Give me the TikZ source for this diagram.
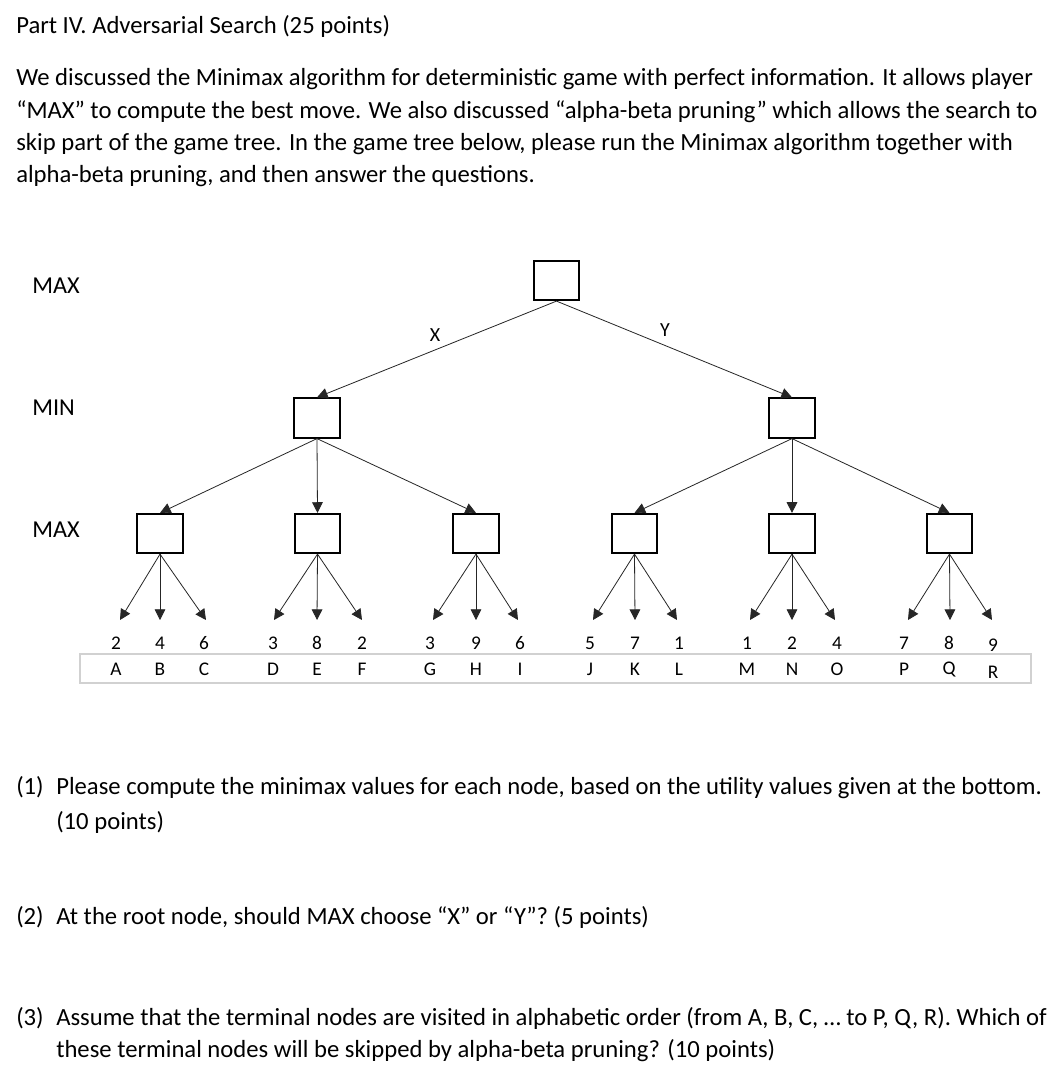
\documentclass[tikz,border=0pt]{standalone}
\usepackage{fontspec}
\setmainfont{Carlito}
\usetikzlibrary{arrows.meta}
\begin{document}
\begin{tikzpicture}[x=0.75pt,y=-0.75pt,
  txt/.style={anchor=base west,inner sep=0pt,font=\fontsize{18.5}{22}\selectfont},
  lvl/.style={anchor=base west,inner sep=0pt,font=\fontsize{18.2}{20}\selectfont},
  gbox/.style={draw,line width=1.4pt,minimum width=34pt,minimum height=29.5pt,inner sep=0pt},
  edge/.style={draw=black!85,line width=0.6pt,-{Triangle[length=8pt,width=8pt]}},
  num/.style={inner sep=0pt,font=\fontsize{14.5}{16}\selectfont},
  elab/.style={inner sep=0pt,font=\fontsize{15}{16}\selectfont}]
\useasboundingbox (0,0) rectangle (1060,1076);
\fill[white] (0,0) rectangle (1060,1076);

% header text
\node[txt] (title) at (16,33) {Part IV. Adversarial Search (25 points)};
\node[txt] (p1) at (16,85) {We discussed the Minimax algorithm for deterministic game with perfect information. It allows player};
\node[txt] (p2) at (16,118) {“MAX” to compute the best move. We also discussed “alpha-beta pruning” which allows the search to};
\node[txt] (p3) at (16,150) {skip part of the game tree. In the game tree below, please run the Minimax algorithm together with};
\node[txt] (p4) at (16,182) {alpha-beta pruning, and then answer the questions.};

% level labels
\node[lvl] (l1) at (32,293) {MAX};
\node[lvl] (l2) at (32,415) {MIN};
\node[lvl] (l3) at (32,537) {MAX};

% tree nodes
\node[gbox] (root) at (556.5,280.5) {};
\node[gbox] (m1) at (317,418) {};
\node[gbox] (m2) at (792,418) {};
\node[gbox] (a1) at (160,533.5) {};
\node[gbox] (a2) at (317.5,533.5) {};
\node[gbox] (a3) at (476,533.5) {};
\node[gbox] (a4) at (634.5,533.5) {};
\node[gbox] (a5) at (792,533.5) {};
\node[gbox] (a6) at (949.5,533.5) {};

\draw[edge] (root.south) -- (m1.north);
\draw[edge] (root.south) -- (m2.north);
\node[elab] (X) at (435,335) {X};
\node[elab] (Y) at (665,330) {Y};

\foreach \t in {a1,a2,a3}{\draw[edge] (m1.south) -- (\t.north);}
\foreach \t in {a4,a5,a6}{\draw[edge] (m2.south) -- (\t.north);}

% letter strip
\draw[black!18,line width=1.5pt] (80,654) rectangle (1031,683);

% leaves
\foreach \nm/\x/\tx/\v/\vy/\lety/\pn in {
  A/116/120/2/643/669/a1, B/160/160/4/643/669/a1, C/204/206/6/643/669/a1,
  D/273/274/3/643/669/a2, E/317/317/8/643/669/a2, F/362/362/2/643/669/a2,
  G/430/433/3/643/669/a3, H/476/476/9/643/669/a3, I/520/518/6/643/669/a3,
  J/590/593/5/643/669/a4, K/635/635/7/643/669/a4, L/679/677/1/643/669/a4,
  M/747/750/1/643/669/a5, N/792/792/2/643/669/a5, O/837/835/4/643/669/a5,
  P/904/908/7/643/669/a6, Q/949/950/8/643/669/a6, R/993/992/9/645/672/a6}{
  \node[num] (v\nm) at (\x,\vy) {\v};
  \node[num] (n\nm) at (\x,\lety) {\nm};
  \coordinate (t\nm) at (\tx,620);
  \draw[edge] (\pn.south) -- (t\nm);
}

% questions
\node[txt] (q1) at (16,794) {(1)};
\node[txt] (q1a) at (56,794) {Please compute the minimax values for each node, based on the utility values given at the bottom.};
\node[txt] (q1b) at (56,829) {(10 points)};
\node[txt] (q2) at (16,924) {(2)};
\node[txt] (q2a) at (56,924) {At the root node, should MAX choose “X” or “Y”? (5 points)};
\node[txt] (q3) at (16,1025) {(3)};
\node[txt] (q3a) at (56,1025) {Assume that the terminal nodes are visited in alphabetic order (from A, B, C, … to P, Q, R). Which of};
\node[txt] (q3b) at (56,1057) {these terminal nodes will be skipped by alpha-beta pruning? (10 points)};
\end{tikzpicture}
\end{document}
